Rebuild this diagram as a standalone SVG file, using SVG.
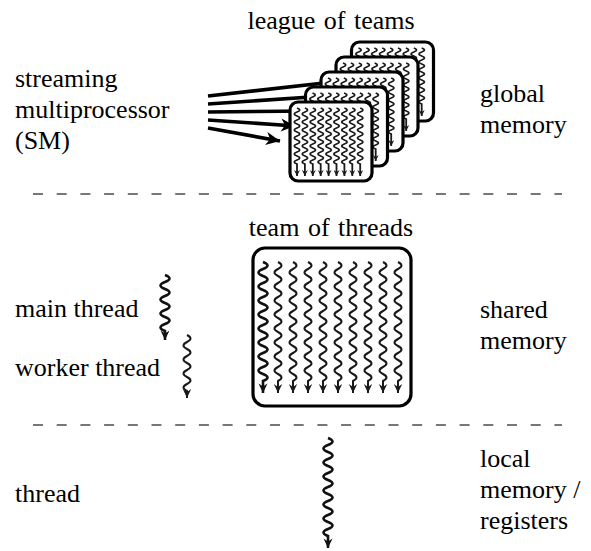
<svg xmlns="http://www.w3.org/2000/svg" width="591" height="551" viewBox="0 0 591 551">
<style>
.dash{stroke:#777;stroke-width:2;stroke-dasharray:10 13.7;fill:none}
.wt{fill:none;stroke:#1a1a1a;stroke-width:2;marker-end:url(#ahS)}
.wm{fill:none;stroke:#111;stroke-width:2.6;marker-end:url(#ahM)}
.mw{fill:none;stroke:#1a1a1a;stroke-width:1.8;marker-end:url(#ahT)}
.box{fill:#fff;stroke:#000;stroke-width:3.2}
.sm{stroke:#000;stroke-width:3.6;fill:none;marker-end:url(#ahB)}
</style>
<defs>
<marker id="ahS" viewBox="-10 -5 10 10" refX="0" refY="0" markerWidth="10" markerHeight="10" orient="auto" markerUnits="userSpaceOnUse"><path d="M0,0 L-9,-4.2 L-6,0 L-9,4.2 z" fill="#1a1a1a"/></marker>
<marker id="ahM" viewBox="-10 -5 10 10" refX="0" refY="0" markerWidth="10" markerHeight="10" orient="auto" markerUnits="userSpaceOnUse"><path d="M0,0 L-9.5,-4.5 L-6.5,0 L-9.5,4.5 z" fill="#111"/></marker>
<marker id="ahT" viewBox="-6 -3 6 6" refX="0" refY="0" markerWidth="6" markerHeight="6" orient="auto" markerUnits="userSpaceOnUse"><path d="M0,0 L-6,-3 L-4,0 L-6,3 z" fill="#1a1a1a"/></marker>
<marker id="ahB" viewBox="-15 -7 15 14" refX="0" refY="0" markerWidth="15" markerHeight="14" orient="auto" markerUnits="userSpaceOnUse"><path d="M0,0 L-14,-6.5 L-10,0 L-14,6.5 z" fill="#000"/></marker>
<path id="waveThin" d="M0,0 q7,3.5 0,7 t0,7 0,7 0,7 0,7 0,7 0,7 0,7 0,7 0,7 0,7 0,7 0,7 0,7 0,7 0,7 0,7 v12"/>
<path id="waveMainBox" d="M0,0 q9,3.5 0,7 t0,7 0,7 0,7 0,7 0,7 0,7 0,7 0,7 0,7 0,7 0,7 0,7 0,7 0,7 0,7 0,7 v12"/>
<path id="waveMini" d="M0,0 q5.5,2 0,4 t0,4 0,4 0,4 0,4 0,4 0,4 0,4 0,4 0,4 0,4 0,4 0,4 0,4 v12"/>
<g id="miniTeam">
<rect class="box" x="0" y="0" width="82" height="79" rx="8"/>
<use href="#waveMini" class="mw" x="7" y="6"/>
<use href="#waveMini" class="mw" x="14.9" y="6"/>
<use href="#waveMini" class="mw" x="22.8" y="6"/>
<use href="#waveMini" class="mw" x="30.7" y="6"/>
<use href="#waveMini" class="mw" x="38.6" y="6"/>
<use href="#waveMini" class="mw" x="46.5" y="6"/>
<use href="#waveMini" class="mw" x="54.4" y="6"/>
<use href="#waveMini" class="mw" x="62.3" y="6"/>
<use href="#waveMini" class="mw" x="70.2" y="6"/>
</g>
</defs>
<rect width="591" height="551" fill="#fff"/>

<g id="separators">
<line class="dash" x1="33" y1="194" x2="562" y2="194"/>
<line class="dash" x1="33" y1="425" x2="562" y2="425"/>
</g>

<g id="connectors">
<line class="sm" x1="208" y1="96" x2="342" y2="81"/>
<line class="sm" x1="208" y1="104" x2="326" y2="96"/>
<line class="sm" x1="208" y1="112" x2="311" y2="111"/>
<line class="sm" x1="208" y1="120" x2="295" y2="126"/>
<line class="sm" x1="208" y1="128" x2="280" y2="141"/>
</g>

<g id="league">
<use href="#miniTeam" x="351.5" y="42"/>
<use href="#miniTeam" x="336" y="57"/>
<use href="#miniTeam" x="321" y="72"/>
<use href="#miniTeam" x="305.5" y="87"/>
<use href="#miniTeam" x="290" y="102"/>
</g>

<g id="team">
<rect class="box" x="253" y="248" width="158" height="158" rx="12" stroke-width="3.6"/>
<use href="#waveMainBox" class="wm" x="263" y="262"/>
<use href="#waveThin" class="wt" x="278" y="262"/>
<use href="#waveThin" class="wt" x="293" y="262"/>
<use href="#waveThin" class="wt" x="308" y="262"/>
<use href="#waveThin" class="wt" x="323" y="262"/>
<use href="#waveThin" class="wt" x="338" y="262"/>
<use href="#waveThin" class="wt" x="353" y="262"/>
<use href="#waveThin" class="wt" x="368" y="262"/>
<use href="#waveThin" class="wt" x="383" y="262"/>
<use href="#waveThin" class="wt" x="398" y="262"/>
</g>

<g id="mainThread">
<path class="wm" d="M165,275 q9,3.5 0,7 t0,7 0,7 0,7 0,7 0,7 0,7 0,7 v9"/>
</g>
<g id="workerThread">
<path class="wt" d="M187,335 q7,3.5 0,7 t0,7 0,7 0,7 0,7 0,7 0,7 0,7 v7"/>
</g>
<g id="localThread">
<path class="wm" d="M328,438 q9,3.5 0,7 t0,7 0,7 0,7 0,7 0,7 0,7 0,7 0,7 0,7 0,7 0,7 0,7 0,7 v12"/>
</g>

<g id="labels">
<text font-family="Liberation Serif, Times New Roman, serif" font-size="26" x="331" y="29" text-anchor="middle" word-spacing="2">league of teams</text>
<text font-family="Liberation Serif, Times New Roman, serif" font-size="26" x="15" y="87">streaming</text>
<text font-family="Liberation Serif, Times New Roman, serif" font-size="26" x="15" y="118">multiprocessor</text>
<text font-family="Liberation Serif, Times New Roman, serif" font-size="26" x="15" y="149">(SM)</text>
<text font-family="Liberation Serif, Times New Roman, serif" font-size="26" x="480" y="102">global</text>
<text font-family="Liberation Serif, Times New Roman, serif" font-size="26" x="480" y="133">memory</text>
<text font-family="Liberation Serif, Times New Roman, serif" font-size="26" x="331" y="236" text-anchor="middle" word-spacing="2">team of threads</text>
<text font-family="Liberation Serif, Times New Roman, serif" font-size="26" x="15" y="317">main thread</text>
<text font-family="Liberation Serif, Times New Roman, serif" font-size="26" x="15" y="376">worker thread</text>
<text font-family="Liberation Serif, Times New Roman, serif" font-size="26" x="480" y="318">shared</text>
<text font-family="Liberation Serif, Times New Roman, serif" font-size="26" x="480" y="349">memory</text>
<text font-family="Liberation Serif, Times New Roman, serif" font-size="26" x="15" y="502">thread</text>
<text font-family="Liberation Serif, Times New Roman, serif" font-size="26" x="480" y="467">local</text>
<text font-family="Liberation Serif, Times New Roman, serif" font-size="26" x="480" y="498">memory /</text>
<text font-family="Liberation Serif, Times New Roman, serif" font-size="26" x="480" y="529">registers</text>
</g>
</svg>
